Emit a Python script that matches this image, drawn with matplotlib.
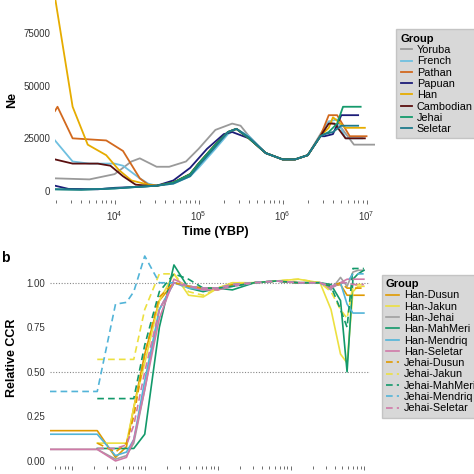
import matplotlib.pyplot as plt
import numpy as np

plt.rcParams["font.family"] = ["Liberation Sans", "DejaVu Sans"]

# ---- panel a: Ne through time (log10 years) ----
groups_a = ["Yoruba", "French", "Pathan", "Papuan", "Han", "Cambodian", "Jehai", "Seletar"]
colors_a = ["#9a9a9a", "#6fc0e0", "#d2691e", "#1c1c78", "#e6ac00", "#5a0f0f", "#159a6c", "#1e7a8c"]

t_yoruba = [3.29, 3.7, 4.0, 4.2, 4.3, 4.5, 4.65, 4.85, 5.0, 5.2, 5.4, 5.5, 5.6, 5.8, 6.0, 6.15, 6.3, 6.45, 6.55, 6.7, 6.85, 7.1]
ne_yoruba = [6000, 5500, 8000, 14000, 15500, 11500, 11500, 14000, 20000, 29000, 32000, 31000, 26000, 18000, 15000, 15000, 17000, 27000, 33000, 30000, 22000, 22000]
t_french = [3.29, 3.5, 3.7, 4.0, 4.1, 4.3, 4.4, 4.5, 4.7, 4.9, 5.0, 5.2, 5.35, 5.45, 5.6, 5.8, 6.0, 6.15, 6.3, 6.45, 6.55, 6.65, 6.75, 6.95]
ne_french = [24000, 14000, 13000, 13000, 12000, 6000, 3500, 2500, 3500, 7000, 11000, 20000, 27000, 29500, 26000, 18000, 15000, 15000, 17000, 26000, 33000, 34000, 25000, 25000]
t_pathan = [3.29, 3.32, 3.5, 3.9, 4.1, 4.3, 4.4, 4.5, 4.7, 4.9, 5.0, 5.2, 5.35, 5.45, 5.6, 5.8, 6.0, 6.15, 6.3, 6.45, 6.55, 6.65, 6.8, 7.0]
ne_pathan = [38000, 40000, 25000, 24000, 19000, 6000, 3000, 2500, 4000, 8000, 13000, 22000, 28000, 29500, 25000, 18000, 15000, 15000, 17000, 26000, 36000, 36000, 26000, 26000]
t_papuan = [3.29, 3.45, 3.8, 4.0, 4.3, 4.5, 4.7, 4.9, 5.1, 5.3, 5.4, 5.6, 5.8, 6.0, 6.15, 6.3, 6.45, 6.5, 6.6, 6.7, 6.9]
ne_papuan = [2500, 1000, 800, 1500, 2000, 2500, 5000, 11000, 20000, 27000, 28000, 25000, 18000, 15000, 15000, 17000, 26000, 26000, 27000, 36000, 36000]
t_han = [3.29, 3.5, 3.68, 3.9, 4.05, 4.2, 4.4, 4.5, 4.7, 4.9, 5.0, 5.2, 5.35, 5.45, 5.6, 5.8, 6.0, 6.15, 6.3, 6.45, 6.55, 6.6, 6.75, 6.98]
ne_han = [92000, 40000, 22000, 17000, 10000, 5000, 3000, 2500, 4000, 8000, 13000, 22000, 28000, 29500, 25000, 18000, 15000, 15000, 17000, 26000, 30000, 35000, 30000, 30000]
t_cambodian = [3.29, 3.5, 3.8, 3.95, 4.1, 4.25, 4.4, 4.5, 4.7, 4.9, 5.0, 5.2, 5.35, 5.45, 5.6, 5.8, 6.0, 6.15, 6.3, 6.45, 6.55, 6.62, 6.75, 6.98]
ne_cambodian = [15000, 13000, 13000, 12000, 7000, 3000, 2500, 2500, 4000, 8000, 13000, 22000, 28000, 29500, 25000, 18000, 15000, 15000, 17000, 26000, 32000, 32000, 25000, 25000]
t_jehai = [3.29, 3.6, 4.0, 4.3, 4.5, 4.7, 4.9, 5.0, 5.2, 5.35, 5.45, 5.6, 5.8, 6.0, 6.15, 6.3, 6.45, 6.55, 6.65, 6.72, 6.93]
ne_jehai = [800, 600, 1200, 2000, 2500, 4000, 8000, 13000, 22000, 28000, 29500, 25000, 18000, 15000, 15000, 17000, 26000, 28000, 32000, 40000, 40000]
t_seletar = [3.29, 3.6, 4.0, 4.3, 4.5, 4.7, 4.9, 5.0, 5.2, 5.35, 5.45, 5.6, 5.8, 6.0, 6.15, 6.3, 6.45, 6.5, 6.6, 6.7, 6.9]
ne_seletar = [800, 600, 1200, 2000, 2500, 3500, 7000, 12000, 21000, 28000, 29500, 25500, 18000, 15000, 15000, 17000, 26000, 27000, 28000, 31000, 31000]

series_a = [(t_yoruba, ne_yoruba), (t_french, ne_french), (t_pathan, ne_pathan), (t_papuan, ne_papuan),
            (t_han, ne_han), (t_cambodian, ne_cambodian), (t_jehai, ne_jehai), (t_seletar, ne_seletar)]

# ---- panel b: relative CCR (log10 years) ----
t_ccr = [2.7, 3.35, 3.6, 3.75, 3.85, 4.0, 4.2, 4.4, 4.6, 4.8, 5.0, 5.2, 5.5, 5.8, 6.1, 6.4, 6.55, 6.68, 6.77, 6.85, 6.92, 7.0]
nan = np.nan
groups_b = ["Han-Dusun", "Han-Jakun", "Han-Jehai", "Han-MahMeri", "Han-Mendriq", "Han-Seletar",
            "Jehai-Dusun", "Jehai-Jakun", "Jehai-MahMeri", "Jehai-Mendriq", "Jehai-Seletar"]
colors_b = ["#e09a00", "#ece040", "#a0a0a0", "#12996a", "#52b4d8", "#d07aa8",
            "#e09a00", "#ece040", "#12996a", "#52b4d8", "#d07aa8"]
ccr = [
    [0.17, 0.17, 0.02, 0.08, 0.30, 0.60, 0.90, 1.00, 0.98, 0.97, 0.96, 0.99, 1.00, 1.01, 1.00, 1.00, 0.98, 0.99, 0.93, 0.93, 0.93, 0.93],
    [nan, 0.10, 0.10, 0.10, 0.30, 0.55, 0.90, 1.05, 0.93, 0.92, 0.97, 1.00, 1.00, 1.01, 1.02, 1.00, 0.85, 0.60, 0.55, 0.95, 0.98, 0.98],
    [0.065, 0.065, 0.01, 0.03, 0.10, 0.40, 0.85, 1.00, 0.98, 0.97, 0.97, 0.99, 1.00, 1.01, 1.00, 1.00, 0.96, 1.03, 0.98, 1.06, 1.07, 1.07],
    [nan, 0.07, 0.07, 0.07, 0.07, 0.15, 0.75, 1.10, 0.97, 0.95, 0.97, 0.96, 1.00, 1.01, 1.00, 1.00, 0.99, 0.90, 0.50, 1.02, 1.05, 1.07],
    [0.15, 0.15, 0.03, 0.05, 0.12, 0.45, 0.85, 1.00, 0.97, 0.96, 0.97, 0.98, 1.00, 1.01, 1.00, 1.00, 0.97, 1.00, 0.88, 0.83, 0.83, 0.83],
    [0.065, 0.065, 0.00, 0.02, 0.12, 0.40, 0.80, 1.02, 0.98, 0.96, 0.96, 0.98, 1.00, 1.01, 1.00, 1.00, 0.97, 1.00, 1.02, 1.02, 1.02, 1.02],
    [nan, 0.10, 0.05, 0.10, 0.25, 0.60, 0.92, 1.00, 0.98, 0.97, 0.97, 0.99, 1.00, 1.01, 1.00, 1.00, 0.98, 1.00, 0.97, 0.97, 0.97, 0.97],
    [nan, 0.57, 0.57, 0.57, 0.57, 0.85, 1.05, 1.05, 0.95, 0.93, 0.97, 1.00, 1.00, 1.01, 1.02, 1.00, 0.95, 0.85, 0.80, 0.98, 0.99, 0.99],
    [nan, 0.35, 0.35, 0.35, 0.35, 0.65, 0.95, 1.05, 1.02, 0.97, 0.97, 0.98, 1.00, 1.01, 1.00, 1.00, 0.98, 0.85, 0.75, 1.08, 1.08, 1.08],
    [0.39, 0.39, 0.88, 0.89, 0.95, 1.15, 1.00, 1.00, 0.98, 0.97, 0.97, 0.99, 1.00, 1.01, 1.00, 1.00, 0.98, 1.00, 1.00, 1.05, 1.05, 1.05],
    [nan, 0.07, 0.07, 0.09, 0.20, 0.50, 0.85, 1.00, 0.98, 0.97, 0.97, 0.99, 1.00, 1.01, 1.00, 1.00, 0.98, 1.00, 1.00, 0.99, 0.99, 0.99],
]

fig = plt.figure(figsize=(4.74, 4.74), dpi=100)
ax_a = fig.add_axes([0.116, 0.578, 0.675, 0.422])
ax_b = fig.add_axes([0.105, 0.017, 0.675, 0.456])


def style(ax):
    for s in ax.spines.values():
        s.set_visible(False)
    ax.tick_params(which="both", direction="out", colors="#555555", labelsize=7, labelcolor="#333333")
    ax.tick_params(which="major", length=3, width=0.6)
    ax.tick_params(which="minor", length=2, width=0.6)


def style_legend(leg):
    leg._legend_box.align = "left"
    leg.get_frame().set_facecolor("#cfcfcf")
    leg.get_frame().set_edgecolor("#bbbbbb")


for (t, ne), name, c in zip(series_a, groups_a, colors_a):
    ax_a.plot(10 ** np.array(t), ne, color=c, lw=1.3, label=name)
ax_a.set_xscale("log")
ax_a.set_xlim(10 ** 3.29, 10 ** 7.1)
ax_a.set_ylim(-4300, 90700)
ax_a.set_yticks([0, 25000, 50000, 75000])
ax_a.set_xticks([1e4, 1e5, 1e6, 1e7])
style(ax_a)
ax_a.tick_params(axis="y", length=0)
ax_a.set_xlabel("Time (YBP)", fontsize=9, fontweight="bold", labelpad=2)
ax_a.set_ylabel("Ne", fontsize=9, fontweight="bold", labelpad=4)
leg = ax_a.legend(title="Group", loc="upper left", bbox_to_anchor=(1.05, 0.88), fontsize=7.8,
                  title_fontproperties={"weight": "bold", "size": 8}, frameon=True, fancybox=False,
                  handlelength=1.0, handletextpad=0.5, labelspacing=0.12, borderpad=0.4)
style_legend(leg)

tb = 10 ** np.array(t_ccr)
for vals, name, c in zip(ccr, groups_b, colors_b):
    ls = "-" if name.startswith("Han") else (0, (4, 2.5))
    ax_b.plot(tb, vals, color=c, lw=1.2, ls=ls, label=name)
ax_b.axhline(1.0, color="#888888", lw=0.8, ls=(0, (1, 1.5)), zorder=0)
ax_b.axhline(0.5, color="#888888", lw=0.8, ls=(0, (1, 1.5)), zorder=0)
ax_b.set_xscale("log")
ax_b.set_xlim(10 ** 2.7, 10 ** 7.08)
ax_b.set_ylim(-0.028, 1.185)
ax_b.set_yticks([0, 0.25, 0.5, 0.75, 1.0])
ax_b.set_yticklabels(["0.00", "0.25", "0.50", "0.75", "1.00"])
style(ax_b)
ax_b.tick_params(axis="y", length=0)
ax_b.tick_params(axis="x", labelbottom=False)
ax_b.set_ylabel("Relative CCR", fontsize=9, fontweight="bold", labelpad=6)
leg2 = ax_b.legend(title="Group", loc="upper left", bbox_to_anchor=(1.02, 0.91), fontsize=7.8,
                   title_fontproperties={"weight": "bold", "size": 8}, frameon=True, fancybox=False,
                   handlelength=1.2, handletextpad=0.5, labelspacing=0.12, borderpad=0.4)
style_legend(leg2)

fig.text(0.003, 1 - 262 / 474, "b", fontsize=10, fontweight="bold")

fig.savefig("out.png", dpi=100)
